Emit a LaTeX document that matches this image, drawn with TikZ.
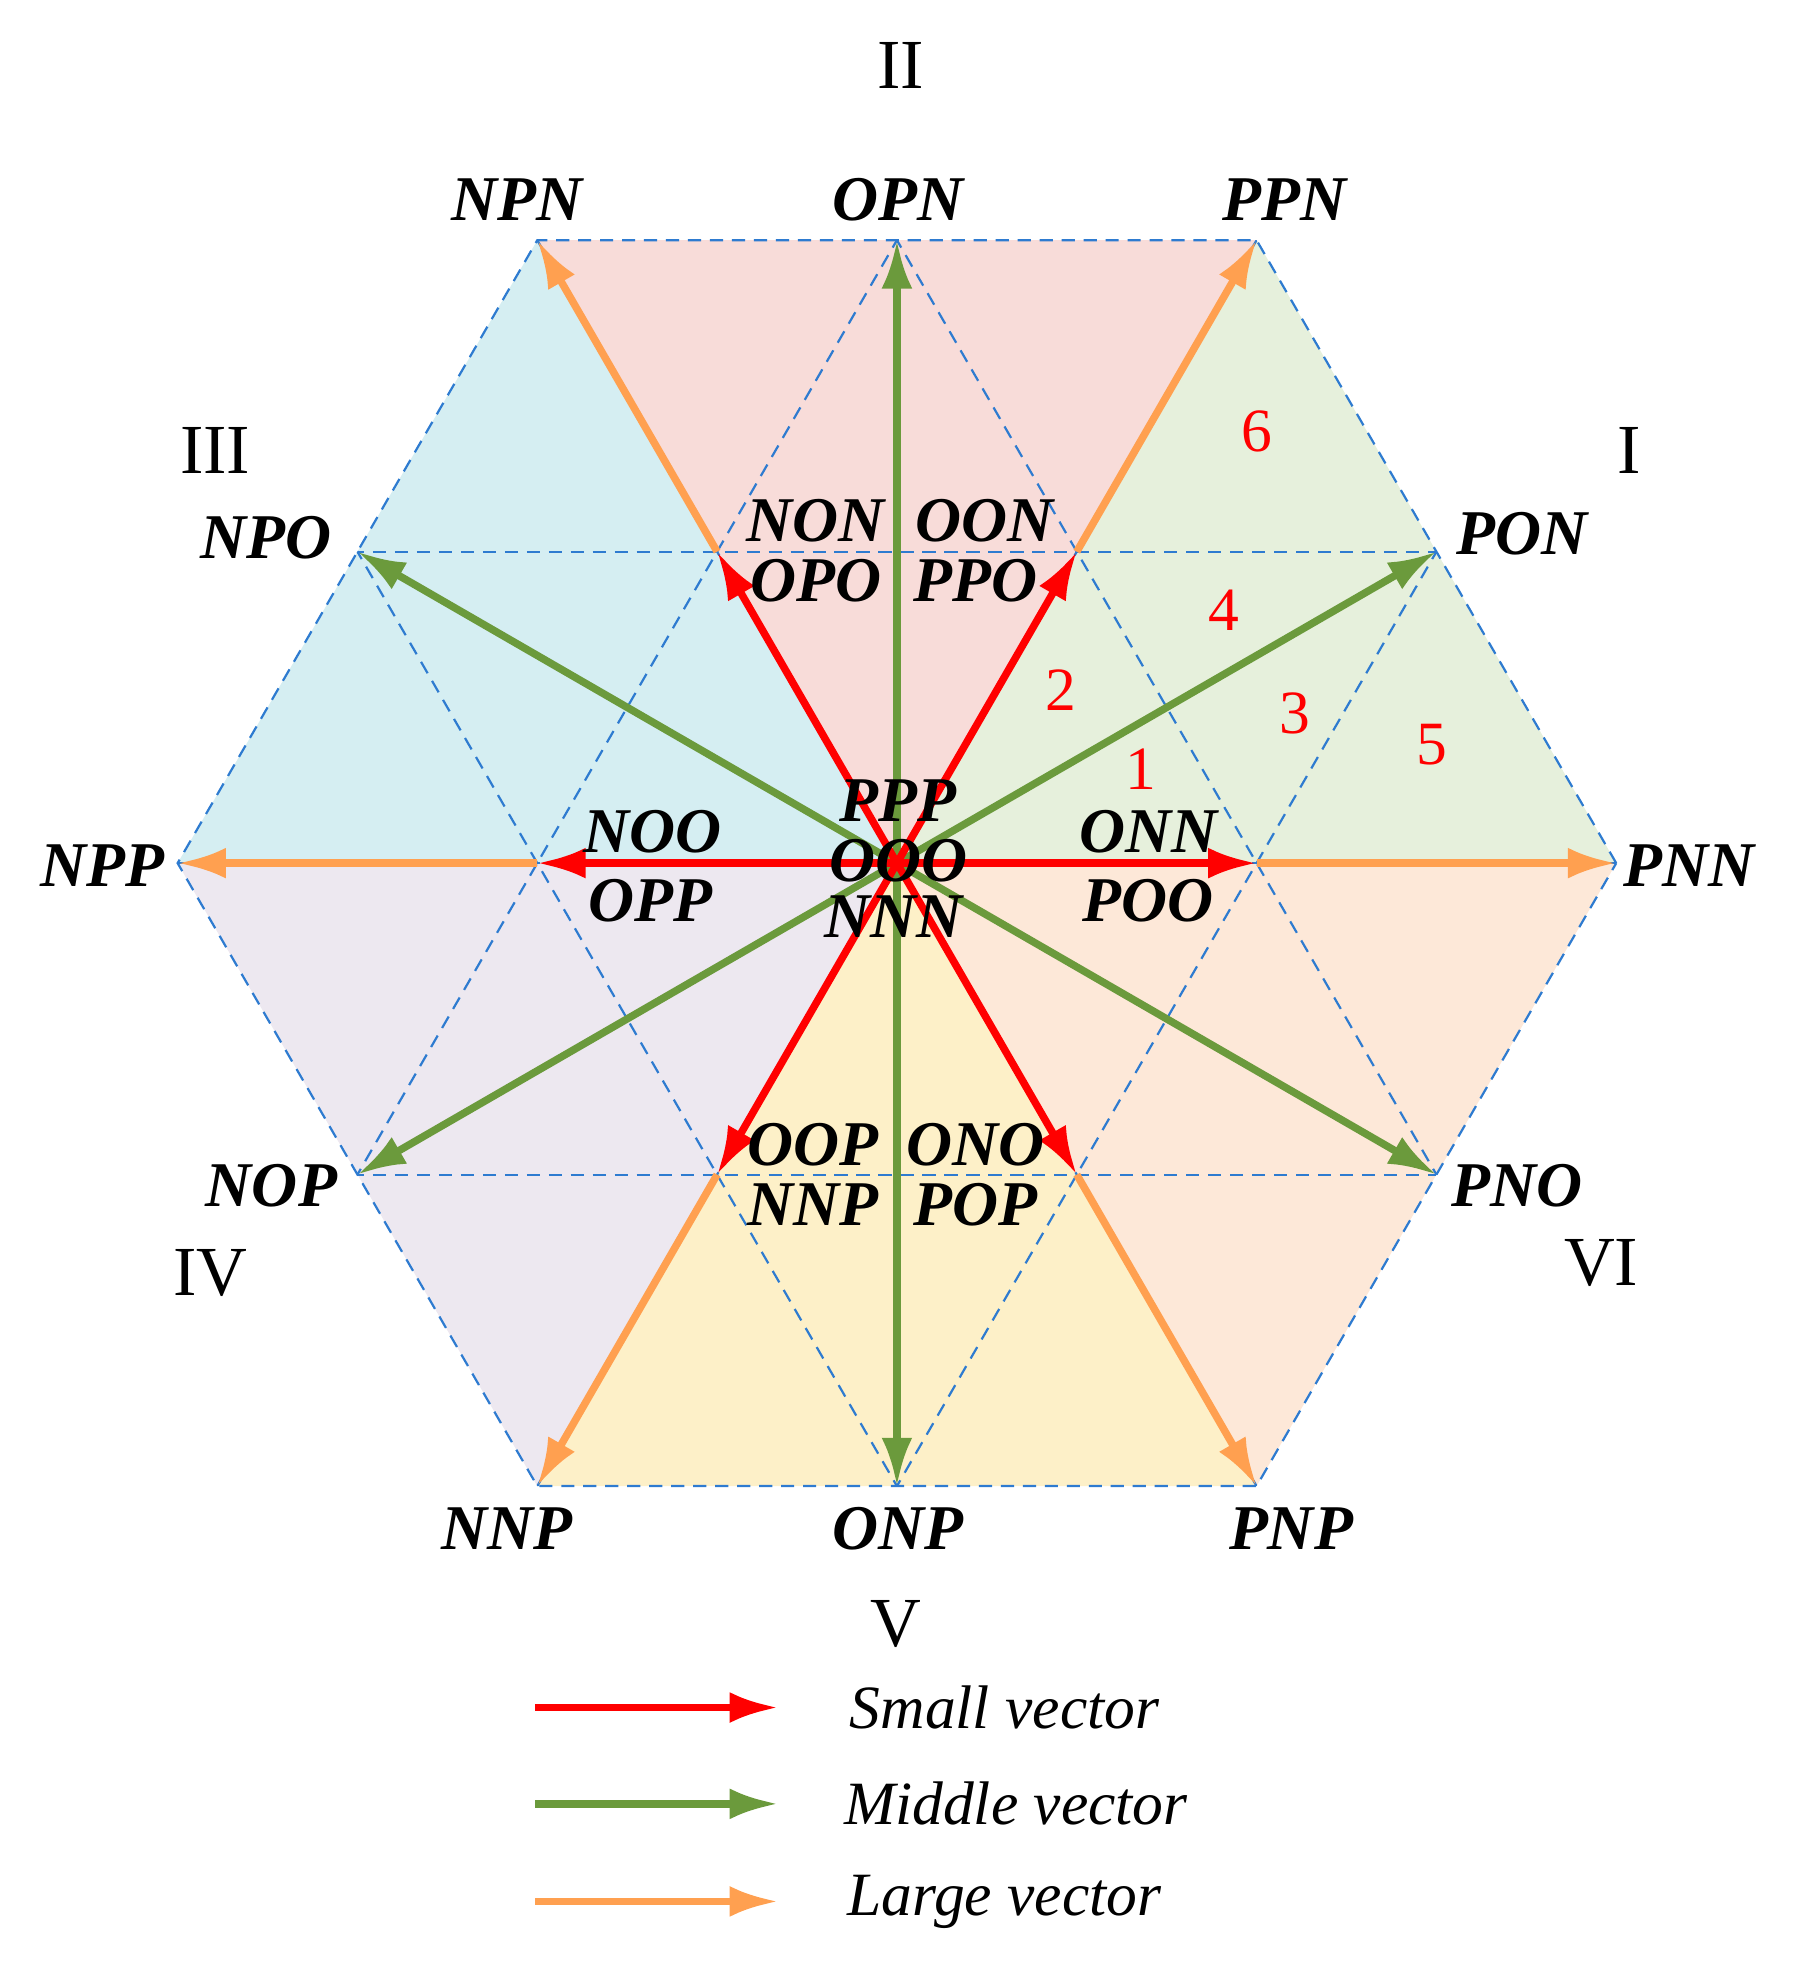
\documentclass[tikz,border=0pt]{standalone}
\usepackage{fontspec}
\setmainfont{Liberation Serif}
\usetikzlibrary{arrows.meta}
\definecolor{gI}{HTML}{E6F0DC}\definecolor{gII}{HTML}{F8DCD9}\definecolor{gIII}{HTML}{D5EEF2}
\definecolor{gIV}{HTML}{EDE8F0}\definecolor{gV}{HTML}{FDF0C8}\definecolor{gVI}{HTML}{FDE8D8}
\definecolor{sred}{HTML}{FF0000}\definecolor{mgreen}{HTML}{6B9A3C}\definecolor{lorange}{HTML}{FFA050}
\definecolor{gridblue}{HTML}{2E7BD0}
\tikzset{
 lab/.style={font=\fontsize{29}{30}\selectfont\bfseries\itshape, inner sep=0pt},
 rom/.style={font=\fontsize{32}{34}\selectfont, inner sep=0pt},
 num/.style={font=\fontsize{28}{30}\selectfont, text=sred, inner sep=0pt},
 leg/.style={font=\fontsize{28}{30}\selectfont\itshape, inner sep=0pt},
 vec/.style={line width=3.4pt, -{Latex[length=22pt,width=14pt]}},
 sv/.style={vec, sred}, mv/.style={vec, mgreen}, lv/.style={vec, lorange},
 gridl/.style={gridblue, line width=1pt, dash pattern=on 6pt off 4pt}
}
\begin{document}
\begin{tikzpicture}[x=0.02cm,y=0.02cm]
\useasboundingbox (0,0) rectangle (1440,1578);
\begin{scope}[shift={(717,888)}]
\coordinate (O) at (0,0);
\foreach \a [count=\i] in {0,60,120,180,240,300} \coordinate (L\i) at (\a:575);
\foreach \a [count=\i] in {0,60,120,180,240,300} \coordinate (S\i) at (\a:287.5);
\foreach \a [count=\i] in {30,90,150,210,270,330} \coordinate (M\i) at (\a:498);
\fill[gI] (O)--(L1)--(L2)--cycle;
\fill[gII] (O)--(L2)--(L3)--cycle;
\fill[gIII] (O)--(L3)--(L4)--cycle;
\fill[gIV] (O)--(L4)--(L5)--cycle;
\fill[gV] (O)--(L5)--(L6)--cycle;
\fill[gVI] (O)--(L6)--(L1)--cycle;
\begin{scope}
\clip (L1)--(L2)--(L3)--(L4)--(L5)--(L6)--cycle;
\foreach \a in {0,60,120} \foreach \k in {-1,0,1}
  \draw[gridl, rotate=\a] (-700,\k*249) -- (700,\k*249);
\end{scope}
\draw[gridl] (L1)--(L2)--(L3)--(L4)--(L5)--(L6)--cycle;
\foreach \i in {1,...,6} \draw[lv] (S\i) -- (L\i);
\foreach \i in {1,...,6} \draw[mv] (O) -- (M\i);
\foreach \i in {1,...,6} \draw[sv] (O) -- (S\i);
\end{scope}
% labels
\node[lab] (npn) at (413,1418) {NPN};
\node[lab] (opn) at (718,1418) {OPN};
\node[lab] (ppn) at (1027,1418) {PPN};
\node[lab] (npo) at (213,1148) {NPO};
\node[lab] (pon) at (1217,1151) {PON};
\node[lab] (npp) at (82,886) {NPP};
\node[lab] (pnn) at (1350,886) {PNN};
\node[lab] (nop) at (217,630) {NOP};
\node[lab] (pno) at (1213,630) {PNO};
\node[lab] (nnp) at (405,356) {NNP};
\node[lab] (onp) at (718,356) {ONP};
\node[lab] (pnp) at (1032,356) {PNP};
\node[lab] (non) at (652,1162) {NON};
\node[lab] (oon) at (787,1162) {OON};
\node[lab] (opo) at (652,1114) {OPO};
\node[lab] (ppo) at (780,1114) {PPO};
\node[lab] (ppp) at (718,938) {PPP};
\node[lab] (ooo) at (718,890) {OOO};
\node[lab] (nnn) at (714,845) {NNN};
\node[lab] (noo) at (522,913) {NOO};
\node[lab] (opp) at (520,858) {OPP};
\node[lab] (onn) at (918,913) {ONN};
\node[lab] (poo) at (918,858) {POO};
\node[lab] (oop) at (650,663) {OOP};
\node[lab] (ono) at (780,663) {ONO};
\node[lab] (nnp2) at (650,615) {NNP};
\node[lab] (pop) at (780,615) {POP};
\node[rom] (rII) at (720,1526) {II};
\node[rom] (rI) at (1302,1218) {I};
\node[rom] (rIII) at (172,1218) {III};
\node[rom] (rIV) at (168,560) {IV};
\node[rom] (rV) at (716,280) {V};
\node[rom] (rVI) at (1280,568) {VI};
\node[num] (n6) at (1005,1233) {6};
\node[num] (n4) at (978,1090) {4};
\node[num] (n2) at (848,1026) {2};
\node[num] (n3) at (1035,1008) {3};
\node[num] (n5) at (1145,983) {5};
\node[num] (n1) at (912,963) {1};
% legend
\coordinate (a1) at (428,213); \coordinate (b1) at (622,213);
\coordinate (a2) at (428,136); \coordinate (b2) at (622,136);
\coordinate (a3) at (428,58); \coordinate (b3) at (622,58);
\draw[sv] (a1)--(b1); \draw[mv] (a2)--(b2); \draw[lv] (a3)--(b3);
\node[leg] (t1) at (803,213) {Small vector};
\node[leg] (t2) at (812,136) {Middle vector};
\node[leg] (t3) at (803,58) {Large vector};
\end{tikzpicture}
\end{document}
